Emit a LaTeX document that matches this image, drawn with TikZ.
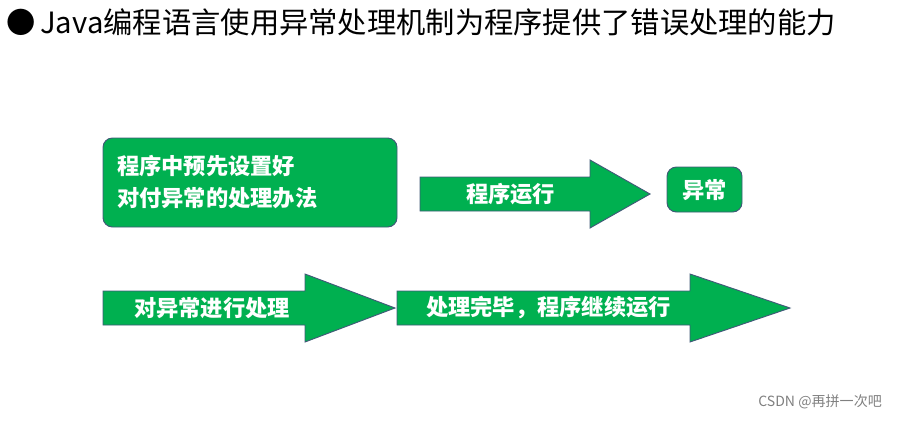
\documentclass[tikz,border=0pt]{standalone}
\usepackage{fontspec}
\setmainfont{Noto Sans CJK SC}
\definecolor{boxgreen}{RGB}{0,176,80}
\definecolor{boxline}{RGB}{65,90,120}
\tikzset{
  greenbox/.style={draw=boxline,fill=boxgreen,line width=0.8pt,rounded corners=8pt},
  boxtext/.style={text=white,font=\fontsize{19}{27}\selectfont\bfseries,align=left,anchor=west}
}
\newcommand{\bigarrow}[5]{% x0, x1 (head start), x2 (tip), ymid, label name
  \filldraw[greenbox,rounded corners=0pt] (#1,#4-17) -- (#2,#4-17) -- (#2,#4-34) -- (#3,#4)
    -- (#2,#4+34) -- (#2,#4+17) -- (#1,#4+17) -- cycle;}
\begin{document}
\begin{tikzpicture}[x=0.03cm,y=-0.03cm]
\useasboundingbox (0,0) rectangle (900,421);

\node[anchor=west,font=\fontsize{25}{30}\selectfont] (title) at (2,22) {●\,Java编程语言使用异常处理机制为程序提供了错误处理的能力};

% first row
\draw[greenbox] (103,138) rectangle (397,227);
\node[boxtext] (prep) at (113,182) {程序中预先设置好\\对付异常的处理办法};
\bigarrow{420}{590}{650}{194}{}
\node[boxtext] (run) at (462,194) {程序运行};
\draw[greenbox] (667,167) rectangle (742,212);
\node[boxtext,anchor=center] (exc) at (704.5,190) {异常};

% second row
\bigarrow{103}{305}{395}{308}{}
\node[boxtext] (handle) at (130,308) {对异常进行处理};
\bigarrow{397}{690}{790}{308}{}
\node[boxtext] (cont) at (422,308) {处理完毕，程序继续运行};

\node[anchor=east,text=gray,font=\fontsize{12}{14}\selectfont] (mark) at (886,402) {CSDN @再拼一次吧};
\end{tikzpicture}
\end{document}
